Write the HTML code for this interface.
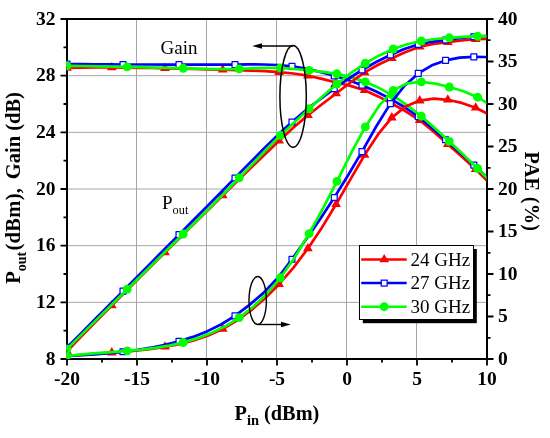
<!DOCTYPE html>
<html><head><meta charset="utf-8"><title>chart</title>
<style>
html,body{margin:0;padding:0;background:#fff;}
body{width:550px;height:438px;overflow:hidden;}
svg{display:block;}
text{font-family:"Liberation Serif","Times New Roman",serif;fill:#000;}
.b{font-weight:bold;font-size:19.5px;}
.t{font-weight:bold;font-size:20.3px;}
.r{font-size:19px;}
</style></head><body>
<svg width="550" height="438" viewBox="0 0 550 438">
<rect width="550" height="438" fill="#fff"/>
<defs><clipPath id="cp"><rect x="66.5" y="19" width="420" height="339.8"/></clipPath></defs>

<path d="M136.5,19.0 V359.0 M206.5,19.0 V359.0 M276.5,19.0 V359.0 M346.5,19.0 V359.0 M416.5,19.0 V359.0 M67.0,302.33 H487.0 M67.0,245.67 H487.0 M67.0,189.00 H487.0 M67.0,132.33 H487.0 M67.0,75.67 H487.0" stroke="#a6a6a6" stroke-width="1" fill="none"/>
<rect x="67.0" y="19.0" width="420.0" height="340.0" fill="none" stroke="#000" stroke-width="2"/>
<path d="M67.0,359.0 h-6.5 M67.0,302.3 h-6.5 M67.0,245.7 h-6.5 M67.0,189.0 h-6.5 M67.0,132.3 h-6.5 M67.0,75.7 h-6.5 M67.0,19.0 h-6.5 M67.0,330.7 h-3.5 M67.0,274.0 h-3.5 M67.0,217.3 h-3.5 M67.0,160.7 h-3.5 M67.0,104.0 h-3.5 M67.0,47.3 h-3.5 M487.0,359.0 h6.5 M487.0,316.5 h6.5 M487.0,274.0 h6.5 M487.0,231.5 h6.5 M487.0,189.0 h6.5 M487.0,146.5 h6.5 M487.0,104.0 h6.5 M487.0,61.5 h6.5 M487.0,19.0 h6.5 M487.0,337.8 h3.5 M487.0,295.2 h3.5 M487.0,252.8 h3.5 M487.0,210.2 h3.5 M487.0,167.8 h3.5 M487.0,125.2 h3.5 M487.0,82.8 h3.5 M487.0,40.2 h3.5 M67.0,359.0 v6.5 M137.0,359.0 v6.5 M207.0,359.0 v6.5 M277.0,359.0 v6.5 M347.0,359.0 v6.5 M417.0,359.0 v6.5 M487.0,359.0 v6.5 M102.0,359.0 v3.5 M172.0,359.0 v3.5 M242.0,359.0 v3.5 M312.0,359.0 v3.5 M382.0,359.0 v3.5 M452.0,359.0 v3.5" stroke="#000" stroke-width="1.8" fill="none"/>
<g clip-path="url(#cp)" fill="none" stroke-width="2.7" stroke-linejoin="round">
<path d="M67.0,67.9 L81.9,67.6 L96.9,67.4 L111.8,67.5 L125.1,67.6 L138.4,67.8 L151.7,68.0 L165.0,68.3 L179.4,68.6 L193.8,69.0 L208.3,69.3 L222.7,69.7 L236.8,70.1 L250.9,70.6 L265.0,71.2 L279.1,72.1 L293.5,73.5 L307.9,75.7 L322.0,78.9 L336.1,82.5 L350.4,85.9 L364.6,90.3 L378.2,96.4 L391.8,103.6 L405.7,111.3 L419.7,120.3 L433.7,131.7 L447.8,144.2 L461.7,156.6 L475.7,169.3 L495.4,189.0" stroke="#ff0000"/>
<g><path d="M67.0,62.4 L71.9,70.7 L62.1,70.7Z" fill="#ff0000"/><path d="M111.8,62.0 L116.7,70.3 L106.9,70.3Z" fill="#ff0000"/><path d="M165.0,62.8 L169.9,71.1 L160.1,71.1Z" fill="#ff0000"/><path d="M222.7,64.2 L227.6,72.5 L217.8,72.5Z" fill="#ff0000"/><path d="M279.1,66.6 L284.0,74.9 L274.2,74.9Z" fill="#ff0000"/><path d="M307.9,70.2 L312.8,78.5 L303.0,78.5Z" fill="#ff0000"/><path d="M336.1,77.0 L341.0,85.3 L331.2,85.3Z" fill="#ff0000"/><path d="M364.6,84.8 L369.5,93.1 L359.7,93.1Z" fill="#ff0000"/><path d="M391.8,98.1 L396.7,106.4 L386.9,106.4Z" fill="#ff0000"/><path d="M419.7,114.8 L424.6,123.1 L414.8,123.1Z" fill="#ff0000"/><path d="M447.8,138.7 L452.7,147.0 L442.9,147.0Z" fill="#ff0000"/><path d="M475.7,163.8 L480.6,172.1 L470.8,172.1Z" fill="#ff0000"/></g>
<path d="M67.0,64.0 L81.0,64.2 L95.0,64.3 L109.0,64.4 L123.0,64.5 L137.0,64.5 L151.0,64.5 L165.0,64.6 L179.0,64.6 L193.0,64.7 L207.0,64.7 L221.0,64.7 L235.0,64.6 L249.2,64.4 L263.5,64.5 L277.7,65.0 L292.0,66.3 L306.1,68.7 L320.2,71.9 L334.3,75.8 L348.1,80.1 L362.0,85.2 L376.2,91.5 L390.4,98.9 L404.3,107.0 L418.3,116.6 L431.9,127.7 L445.6,139.7 L459.7,152.2 L473.8,165.1 L484.6,175.3 L495.4,186.2" stroke="#0000ff"/>
<g><rect x="64.05" y="61.10" width="5.9" height="5.9" fill="#fff" stroke="#0000ff" stroke-width="1.25"/><rect x="120.05" y="61.53" width="5.9" height="5.9" fill="#fff" stroke="#0000ff" stroke-width="1.25"/><rect x="176.05" y="61.67" width="5.9" height="5.9" fill="#fff" stroke="#0000ff" stroke-width="1.25"/><rect x="232.05" y="61.67" width="5.9" height="5.9" fill="#fff" stroke="#0000ff" stroke-width="1.25"/><rect x="289.03" y="63.37" width="5.9" height="5.9" fill="#fff" stroke="#0000ff" stroke-width="1.25"/><rect x="331.31" y="72.86" width="5.9" height="5.9" fill="#fff" stroke="#0000ff" stroke-width="1.25"/><rect x="359.03" y="82.21" width="5.9" height="5.9" fill="#fff" stroke="#0000ff" stroke-width="1.25"/><rect x="387.45" y="95.95" width="5.9" height="5.9" fill="#fff" stroke="#0000ff" stroke-width="1.25"/><rect x="415.31" y="113.66" width="5.9" height="5.9" fill="#fff" stroke="#0000ff" stroke-width="1.25"/><rect x="442.61" y="136.75" width="5.9" height="5.9" fill="#fff" stroke="#0000ff" stroke-width="1.25"/><rect x="470.89" y="162.11" width="5.9" height="5.9" fill="#fff" stroke="#0000ff" stroke-width="1.25"/></g>
<path d="M67.0,65.8 L82.0,66.0 L97.1,66.3 L112.2,66.6 L127.2,66.9 L141.2,67.2 L155.2,67.6 L169.2,67.9 L183.2,68.3 L197.2,68.7 L211.2,69.0 L225.2,69.1 L239.2,68.9 L252.9,68.4 L266.6,67.9 L280.4,68.0 L294.7,69.0 L309.1,70.4 L323.0,71.8 L336.9,73.8 L351.1,77.1 L365.3,81.9 L379.3,88.1 L393.3,95.9 L407.3,105.3 L421.3,116.2 L435.3,128.4 L449.3,141.4 L463.5,154.8 L477.6,168.5 L495.4,186.2" stroke="#00ff00"/>
<g><circle cx="67.0" cy="65.8" r="4.45" fill="#00ff00"/><circle cx="127.2" cy="66.9" r="4.45" fill="#00ff00"/><circle cx="183.2" cy="68.3" r="4.45" fill="#00ff00"/><circle cx="239.2" cy="68.9" r="4.45" fill="#00ff00"/><circle cx="280.4" cy="68.0" r="4.45" fill="#00ff00"/><circle cx="309.1" cy="70.4" r="4.45" fill="#00ff00"/><circle cx="336.9" cy="73.8" r="4.45" fill="#00ff00"/><circle cx="365.3" cy="81.9" r="4.45" fill="#00ff00"/><circle cx="393.3" cy="95.9" r="4.45" fill="#00ff00"/><circle cx="421.3" cy="116.2" r="4.45" fill="#00ff00"/><circle cx="449.3" cy="141.4" r="4.45" fill="#00ff00"/><circle cx="477.6" cy="168.5" r="4.45" fill="#00ff00"/></g>
<path d="M67.0,351.2 L81.9,335.8 L96.9,320.5 L111.8,305.5 L125.1,292.1 L138.4,278.8 L151.7,265.6 L165.0,252.5 L179.4,238.2 L193.8,224.0 L208.3,209.7 L222.7,195.5 L236.8,181.6 L250.9,167.8 L265.0,154.2 L279.1,140.8 L293.5,127.6 L307.9,115.2 L322.0,104.2 L336.1,93.5 L350.4,82.5 L364.6,72.4 L378.2,64.8 L391.8,58.2 L405.7,51.9 L419.7,46.8 L433.7,43.9 L447.8,42.2 L461.7,40.5 L475.7,39.1 L495.4,38.8" stroke="#ff0000"/>
<g><path d="M67.0,345.7 L71.9,354.0 L62.1,354.0Z" fill="#ff0000"/><path d="M111.8,300.0 L116.7,308.3 L106.9,308.3Z" fill="#ff0000"/><path d="M165.0,247.0 L169.9,255.3 L160.1,255.3Z" fill="#ff0000"/><path d="M222.7,190.0 L227.6,198.3 L217.8,198.3Z" fill="#ff0000"/><path d="M279.1,135.3 L284.0,143.6 L274.2,143.6Z" fill="#ff0000"/><path d="M307.9,109.7 L312.8,118.0 L303.0,118.0Z" fill="#ff0000"/><path d="M336.1,88.0 L341.0,96.3 L331.2,96.3Z" fill="#ff0000"/><path d="M364.6,66.9 L369.5,75.2 L359.7,75.2Z" fill="#ff0000"/><path d="M391.8,52.7 L396.7,61.0 L386.9,61.0Z" fill="#ff0000"/><path d="M419.7,41.3 L424.6,49.6 L414.8,49.6Z" fill="#ff0000"/><path d="M447.8,36.7 L452.7,45.0 L442.9,45.0Z" fill="#ff0000"/><path d="M475.7,33.6 L480.6,41.9 L470.8,41.9Z" fill="#ff0000"/></g>
<path d="M67.0,347.4 L81.0,333.4 L95.0,319.3 L109.0,305.3 L123.0,291.1 L137.0,277.0 L151.0,262.9 L165.0,248.7 L179.0,234.6 L193.0,220.5 L207.0,206.4 L221.0,192.2 L235.0,177.9 L249.2,163.4 L263.5,149.0 L277.7,135.1 L292.0,122.0 L306.1,110.1 L320.2,99.1 L334.3,88.7 L348.1,79.0 L362.0,70.0 L376.2,62.0 L390.4,55.0 L404.3,49.0 L418.3,44.5 L431.9,41.8 L445.6,40.0 L459.7,38.2 L473.8,36.7 L484.6,36.0 L495.4,36.0" stroke="#0000ff"/>
<g><rect x="64.05" y="344.43" width="5.9" height="5.9" fill="#fff" stroke="#0000ff" stroke-width="1.25"/><rect x="120.05" y="288.19" width="5.9" height="5.9" fill="#fff" stroke="#0000ff" stroke-width="1.25"/><rect x="176.05" y="231.67" width="5.9" height="5.9" fill="#fff" stroke="#0000ff" stroke-width="1.25"/><rect x="232.05" y="175.00" width="5.9" height="5.9" fill="#fff" stroke="#0000ff" stroke-width="1.25"/><rect x="289.03" y="119.04" width="5.9" height="5.9" fill="#fff" stroke="#0000ff" stroke-width="1.25"/><rect x="331.31" y="85.75" width="5.9" height="5.9" fill="#fff" stroke="#0000ff" stroke-width="1.25"/><rect x="359.03" y="67.05" width="5.9" height="5.9" fill="#fff" stroke="#0000ff" stroke-width="1.25"/><rect x="387.45" y="52.03" width="5.9" height="5.9" fill="#fff" stroke="#0000ff" stroke-width="1.25"/><rect x="415.31" y="41.55" width="5.9" height="5.9" fill="#fff" stroke="#0000ff" stroke-width="1.25"/><rect x="442.61" y="37.02" width="5.9" height="5.9" fill="#fff" stroke="#0000ff" stroke-width="1.25"/><rect x="470.89" y="33.76" width="5.9" height="5.9" fill="#fff" stroke="#0000ff" stroke-width="1.25"/></g>
<path d="M67.0,349.1 L82.0,334.1 L97.1,319.1 L112.2,304.2 L127.2,289.3 L141.2,275.5 L155.2,261.6 L169.2,247.8 L183.2,234.0 L197.2,220.3 L211.2,206.4 L225.2,192.3 L239.2,177.9 L252.9,163.6 L266.6,149.2 L280.4,135.4 L294.7,121.9 L309.1,108.8 L323.0,96.1 L336.9,84.0 L351.1,72.9 L365.3,63.3 L379.3,55.4 L393.3,49.0 L407.3,44.2 L421.3,41.0 L435.3,39.0 L449.3,37.8 L463.5,36.9 L477.6,36.3 L495.4,36.0" stroke="#00ff00"/>
<g><circle cx="67.0" cy="349.1" r="4.45" fill="#00ff00"/><circle cx="127.2" cy="289.3" r="4.45" fill="#00ff00"/><circle cx="183.2" cy="234.0" r="4.45" fill="#00ff00"/><circle cx="239.2" cy="177.9" r="4.45" fill="#00ff00"/><circle cx="280.4" cy="135.4" r="4.45" fill="#00ff00"/><circle cx="309.1" cy="108.8" r="4.45" fill="#00ff00"/><circle cx="336.9" cy="84.0" r="4.45" fill="#00ff00"/><circle cx="365.3" cy="63.3" r="4.45" fill="#00ff00"/><circle cx="393.3" cy="49.0" r="4.45" fill="#00ff00"/><circle cx="421.3" cy="41.0" r="4.45" fill="#00ff00"/><circle cx="449.3" cy="37.8" r="4.45" fill="#00ff00"/><circle cx="477.6" cy="36.3" r="4.45" fill="#00ff00"/></g>
<path d="M67.0,356.0 L81.9,354.8 L96.9,353.7 L111.8,352.6 L125.1,351.6 L138.4,350.3 L151.7,348.8 L165.0,346.8 L179.4,344.1 L193.8,340.5 L208.3,335.5 L222.7,329.0 L236.8,320.7 L250.9,310.5 L265.0,298.4 L279.1,284.2 L293.5,267.6 L307.9,248.5 L322.0,227.4 L336.1,204.3 L350.4,179.4 L364.6,155.0 L378.2,134.2 L391.8,117.6 L405.7,106.5 L419.7,100.6 L433.7,98.7 L447.8,99.8 L461.7,102.9 L475.7,107.8 L495.4,117.6" stroke="#ff0000"/>
<g><path d="M67.0,350.5 L71.9,358.8 L62.1,358.8Z" fill="#ff0000"/><path d="M111.8,347.1 L116.7,355.4 L106.9,355.4Z" fill="#ff0000"/><path d="M165.0,341.3 L169.9,349.6 L160.1,349.6Z" fill="#ff0000"/><path d="M222.7,323.5 L227.6,331.8 L217.8,331.8Z" fill="#ff0000"/><path d="M279.1,278.7 L284.0,287.0 L274.2,287.0Z" fill="#ff0000"/><path d="M307.9,243.0 L312.8,251.3 L303.0,251.3Z" fill="#ff0000"/><path d="M336.1,198.8 L341.0,207.1 L331.2,207.1Z" fill="#ff0000"/><path d="M364.6,149.5 L369.5,157.8 L359.7,157.8Z" fill="#ff0000"/><path d="M391.8,112.1 L396.7,120.4 L386.9,120.4Z" fill="#ff0000"/><path d="M419.7,95.1 L424.6,103.4 L414.8,103.4Z" fill="#ff0000"/><path d="M447.8,94.2 L452.7,102.5 L442.9,102.5Z" fill="#ff0000"/><path d="M475.7,102.3 L480.6,110.6 L470.8,110.6Z" fill="#ff0000"/></g>
<path d="M67.0,356.0 L81.0,355.2 L95.0,354.3 L109.0,353.2 L123.0,351.8 L137.0,350.0 L151.0,347.7 L165.0,344.9 L179.0,341.3 L193.0,336.9 L207.0,331.4 L221.0,324.5 L235.0,315.8 L249.2,305.1 L263.5,292.9 L277.7,278.0 L292.0,259.2 L306.1,239.4 L320.2,219.0 L334.3,197.5 L348.1,175.2 L362.0,151.6 L376.2,126.5 L390.4,103.6 L404.3,86.0 L418.3,73.4 L431.9,65.3 L445.6,60.4 L459.7,57.7 L473.8,56.8 L484.6,57.0 L495.4,57.7" stroke="#0000ff"/>
<g><rect x="64.05" y="353.07" width="5.9" height="5.9" fill="#fff" stroke="#0000ff" stroke-width="1.25"/><rect x="120.05" y="348.82" width="5.9" height="5.9" fill="#fff" stroke="#0000ff" stroke-width="1.25"/><rect x="176.05" y="338.37" width="5.9" height="5.9" fill="#fff" stroke="#0000ff" stroke-width="1.25"/><rect x="232.05" y="312.87" width="5.9" height="5.9" fill="#fff" stroke="#0000ff" stroke-width="1.25"/><rect x="289.03" y="256.26" width="5.9" height="5.9" fill="#fff" stroke="#0000ff" stroke-width="1.25"/><rect x="331.31" y="194.55" width="5.9" height="5.9" fill="#fff" stroke="#0000ff" stroke-width="1.25"/><rect x="359.03" y="148.65" width="5.9" height="5.9" fill="#fff" stroke="#0000ff" stroke-width="1.25"/><rect x="387.45" y="100.62" width="5.9" height="5.9" fill="#fff" stroke="#0000ff" stroke-width="1.25"/><rect x="415.31" y="70.45" width="5.9" height="5.9" fill="#fff" stroke="#0000ff" stroke-width="1.25"/><rect x="442.61" y="57.44" width="5.9" height="5.9" fill="#fff" stroke="#0000ff" stroke-width="1.25"/><rect x="470.89" y="53.88" width="5.9" height="5.9" fill="#fff" stroke="#0000ff" stroke-width="1.25"/></g>
<path d="M67.0,356.0 L82.0,354.4 L97.1,353.1 L112.2,352.1 L127.2,350.9 L141.2,349.6 L155.2,347.9 L169.2,345.6 L183.2,342.5 L197.2,338.4 L211.2,333.1 L225.2,326.3 L239.2,317.6 L252.9,307.0 L266.6,293.9 L280.4,277.8 L294.7,257.4 L309.1,233.7 L323.0,208.3 L336.9,181.4 L351.1,153.2 L365.3,126.9 L379.3,105.4 L393.3,90.4 L407.3,83.3 L421.3,81.9 L435.3,83.6 L449.3,87.0 L463.5,91.3 L477.6,97.2 L495.4,108.2" stroke="#00ff00"/>
<g><circle cx="67.0" cy="356.0" r="4.45" fill="#00ff00"/><circle cx="127.2" cy="350.9" r="4.45" fill="#00ff00"/><circle cx="183.2" cy="342.5" r="4.45" fill="#00ff00"/><circle cx="239.2" cy="317.6" r="4.45" fill="#00ff00"/><circle cx="280.4" cy="277.8" r="4.45" fill="#00ff00"/><circle cx="309.1" cy="233.7" r="4.45" fill="#00ff00"/><circle cx="336.9" cy="181.4" r="4.45" fill="#00ff00"/><circle cx="365.3" cy="126.9" r="4.45" fill="#00ff00"/><circle cx="393.3" cy="90.4" r="4.45" fill="#00ff00"/><circle cx="421.3" cy="81.9" r="4.45" fill="#00ff00"/><circle cx="449.3" cy="87.0" r="4.45" fill="#00ff00"/><circle cx="477.6" cy="97.2" r="4.45" fill="#00ff00"/></g>
</g>
<text class="b" x="55.4" y="364.7" text-anchor="end">8</text>
<text class="b" x="55.4" y="308.0" text-anchor="end">12</text>
<text class="b" x="55.4" y="251.4" text-anchor="end">16</text>
<text class="b" x="55.4" y="194.7" text-anchor="end">20</text>
<text class="b" x="55.4" y="138.0" text-anchor="end">24</text>
<text class="b" x="55.4" y="81.4" text-anchor="end">28</text>
<text class="b" x="55.4" y="24.7" text-anchor="end">32</text>
<text class="b" x="498" y="364.7">0</text>
<text class="b" x="498" y="322.2">5</text>
<text class="b" x="498" y="279.7">10</text>
<text class="b" x="498" y="237.2">15</text>
<text class="b" x="498" y="194.7">20</text>
<text class="b" x="498" y="152.2">25</text>
<text class="b" x="498" y="109.7">30</text>
<text class="b" x="498" y="67.2">35</text>
<text class="b" x="498" y="24.7">40</text>
<text class="b" x="67.0" y="385" text-anchor="middle">-20</text>
<text class="b" x="137.0" y="385" text-anchor="middle">-15</text>
<text class="b" x="207.0" y="385" text-anchor="middle">-10</text>
<text class="b" x="277.0" y="385" text-anchor="middle">-5</text>
<text class="b" x="347.0" y="385" text-anchor="middle">0</text>
<text class="b" x="417.0" y="385" text-anchor="middle">5</text>
<text class="b" x="487.0" y="385" text-anchor="middle">10</text>
<text class="t" style="font-size:20.5px" transform="translate(20.3,283.8) rotate(-90)">P<tspan font-size="14" dy="5.5">out</tspan><tspan x="33.3" y="0" letter-spacing="0.3">(dBm),</tspan><tspan x="104.6" y="0">Gain (dB)</tspan></text>
<text class="t" transform="translate(525.2,191.4) rotate(90)" text-anchor="middle" letter-spacing="0.25">PAE (%)</text>
<text class="t" x="276.9" y="420" text-anchor="middle">P<tspan font-size="14.5" dy="5">in</tspan><tspan dy="-5"> (dBm)</tspan></text>
<text class="r" x="160.5" y="54">Gain</text>
<text class="r" x="162" y="208.8">P<tspan font-size="12.3" dy="4.8">out</tspan></text>
<ellipse cx="293.1" cy="96.4" rx="13.2" ry="50.8" fill="none" stroke="#000" stroke-width="1.5"/>
<path d="M293,46 H262" stroke="#000" stroke-width="1.5" fill="none"/><path d="M252,46 l10,-2.8 v5.6z" fill="#000"/>
<ellipse cx="257.7" cy="300.5" rx="8.7" ry="24" fill="none" stroke="#000" stroke-width="1.4"/>
<path d="M258,324.5 H282" stroke="#000" stroke-width="1.4" fill="none"/><path d="M290.8,324.5 l-9.8,-2.7 v5.4z" fill="#000"/>
<rect x="362.8" y="249" width="114" height="74.2" fill="#000"/>
<rect x="359.5" y="245.5" width="114" height="74" fill="#fff" stroke="#000" stroke-width="1"/>
<path d="M361.2,259.5 H406.7" stroke="#ff0000" stroke-width="2.5"/>
<path d="M384.2,254.0 L389.1,262.3 L379.3,262.3Z" fill="#ff0000"/>
<text class="r" x="410.5" y="265.6">24 GHz</text>
<path d="M361.2,283.1 H406.7" stroke="#0000ff" stroke-width="2.5"/>
<rect x="381.25" y="280.15" width="5.9" height="5.9" fill="#fff" stroke="#0000ff" stroke-width="1.25"/>
<text class="r" x="410.5" y="289.2">27 GHz</text>
<path d="M361.2,306.7 H406.7" stroke="#00ff00" stroke-width="2.5"/>
<circle cx="384.2" cy="306.7" r="4.45" fill="#00ff00"/>
<text class="r" x="410.5" y="312.8">30 GHz</text>
</svg></body></html>
